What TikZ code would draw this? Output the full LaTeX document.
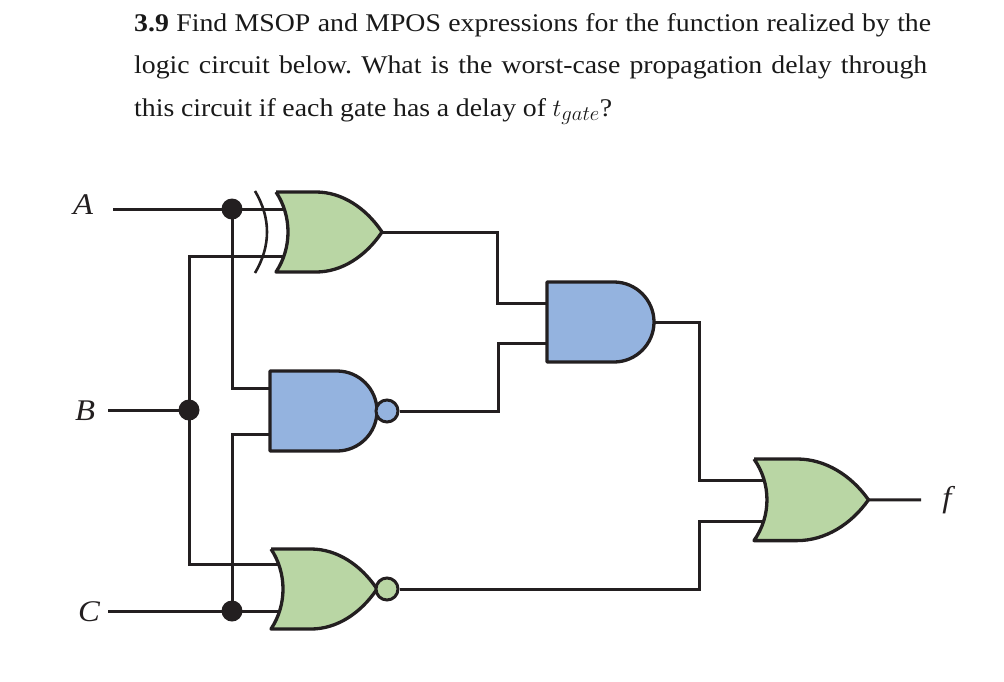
\documentclass[tikz,border=0pt]{standalone}
\usepackage{fontspec}
\setmainfont{Liberation Serif}[FakeStretch=1.09]
\definecolor{ink}{HTML}{231F20}
\definecolor{gategreen}{HTML}{B9D6A4}
\definecolor{gateblue}{HTML}{94B3DF}
\tikzset{
  x=1pt,y=-1pt,
  wire/.style={draw=ink,line width=3pt,line join=miter},
  gate/.style={draw=ink,line width=3.3pt,line join=round},
  dot/.style={circle,fill=ink,inner sep=0pt,minimum size=21pt},
  txt/.style={anchor=base west,inner sep=0pt,text=black!90,font=\fontsize{25.5}{30}\selectfont\frenchspacing},
  lab/.style={inner sep=0pt,text=ink,font=\fontsize{30}{34}\selectfont\itshape},
  pics/orgate/.style 2 args={code={
    \path[gate,fill=gategreen] (0,0) -- (40,0) .. controls (66,0) and (90,16) .. (106,40)
      .. controls (90,64) and (66,80) .. (40,80) -- (0,80) .. controls (16,56) and (16,24) .. (0,0);
    \coordinate (-a) at (8,#1);
    \coordinate (-b) at (8,#2);
    \coordinate (-out) at (106,40);
  }},
  pics/andgate/.style 2 args={code={
    \path[gate,fill=gateblue] (0,0) -- (67,0) .. controls (89,0) and (107,18) .. (107,40)
      .. controls (107,62) and (89,80) .. (67,80) -- (0,80) -- cycle;
    \coordinate (-a) at (0,#1);
    \coordinate (-b) at (0,#2);
    \coordinate (-out) at (107,40);
  }},
  bubble/.style={circle,draw=ink,line width=3pt,inner sep=0pt,minimum size=22pt},
}
\begin{document}
\begin{tikzpicture}
\useasboundingbox (0,0) rectangle (1004,681);
% text
\node[txt] (l1) at (134,31) {\makebox[797pt][s]{\textbf{3.9} Find MSOP and MPOS expressions for the function realized by the}};
\node[txt] (l2) at (134,73.5) {\makebox[793pt][s]{logic circuit below. What is the worst-case propagation delay through}};
\node[txt] (l3) at (134,116) {\makebox[478pt][s]{this circuit if each gate has a delay of {\fontsize{32}{34}\selectfont$t_{gate}$}?}};
% gates
\pic (g1) at (276,192) {orgate={17}{64}};
\pic (g2) at (547,282) {andgate={21}{61}};
\pic (g3) at (270,371) {andgate={17}{63}};
\pic (g4) at (271,549) {orgate={15}{62}};
\pic[xscale=1.08,yscale=1.02] (g5) at (754,459) {orgate={21.5}{61}};
\node[bubble,fill=gateblue] (b3) at (387,411) {};
\node[bubble,fill=gategreen] (b4) at (387,589) {};
% labels and junctions
\node[lab] (A) at (83,205) {A};
\node[lab] (B) at (85,411) {B};
\node[lab] (C) at (89,612) {C};
\node[lab] (f) at (947,500) {f};
\node[dot] (ja) at (232,209) {};
\node[dot] (jb) at (189,410) {};
\node[dot] (jc) at (232,611) {};
\coordinate (As) at (113,209);
\coordinate (Bs) at (108,410);
\coordinate (Cs) at (108,611);
\coordinate (fe) at (921,499.8);
\coordinate (v1) at (497,232);
\coordinate (v2) at (498,411);
\coordinate (v3) at (699,322);
\coordinate (v4) at (699,589);
% wires
\draw[wire] (As) -- (ja.center);
\draw[wire] (Bs) -- (jb.center);
\draw[wire] (Cs) -- (jc.center);
\draw[wire] (ja.center) -- (g1-a);
\draw[wire] (jc.center) -- (g4-b);
\draw[wire] (ja.center) |- (g3-a);
\draw[wire] (jc.center) |- (g3-b);
\draw[wire] (jb.center) |- (g1-b);
\draw[wire] (jb.center) |- (g4-a);
\draw[wire] (g1-out) -- (v1) |- (g2-a);
\draw[wire] (b3) -- (v2) |- (g2-b);
\draw[wire] (g2-out) -- (v3) |- (g5-a);
\draw[wire] (b4) -- (v4) |- (g5-b);
\draw[wire] (g5-out) -- (fe);
% crossing arc of the XOR input
\draw[draw=ink,line width=2.6pt] (255,191) .. controls (271,218) and (271,246) .. (255,273);
\end{tikzpicture}
\end{document}
